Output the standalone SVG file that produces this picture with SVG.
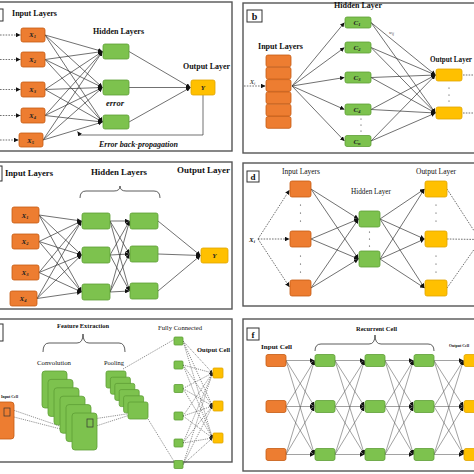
<svg xmlns="http://www.w3.org/2000/svg" width="474" height="474" viewBox="0 0 474 474">
<defs>
<marker id="ah" viewBox="0 0 6 6" refX="6" refY="3" markerWidth="4.5" markerHeight="4.5" markerUnits="userSpaceOnUse" orient="auto"><path d="M0,0L6,3L0,6z" fill="#111"/></marker>
<marker id="as" viewBox="0 0 6 6" refX="6" refY="3" markerWidth="3" markerHeight="3" markerUnits="userSpaceOnUse" orient="auto"><path d="M0,0L6,3L0,6z" fill="#222"/></marker>
</defs>
<style>
.frame{fill:#fff;stroke:#555;stroke-width:1.4}
.lbl{fill:#fff;stroke:#333;stroke-width:1}
.or{fill:#ED7D31;stroke:#C55A11;stroke-width:0.8}
.gr{fill:#7DC24E;stroke:#5E9E36;stroke-width:0.8}
.ye{fill:#FFC000;stroke:#E0A500;stroke-width:0.8}
.h{font-family:"Liberation Serif",serif;font-weight:bold;font-size:7.5px;fill:#111}
.hs{font-family:"Liberation Serif",serif;font-weight:bold;font-size:6.2px;fill:#111}
.rs{font-family:"Liberation Serif",serif;font-size:6.2px;fill:#111}
.it{font-family:"Liberation Serif",serif;font-weight:bold;font-style:italic;font-size:7.5px;fill:#111}
.nl{font-family:"Liberation Serif",serif;font-style:italic;font-weight:bold;font-size:7px;fill:#222;text-anchor:middle}
.pl{font-family:"Liberation Serif",serif;font-weight:bold;font-size:10px;fill:#111;text-anchor:middle}
.c path{fill:none;stroke:#333;stroke-width:0.7;marker-end:url(#ah)}
.c path.d{stroke-dasharray:1.6,1.2}
.c path.e{stroke-dasharray:1.2,1;stroke:#444;stroke-width:0.6;marker-end:url(#as)}
.c path.n{marker-end:none}
.c path.f{stroke:#555;stroke-width:0.55}
.br{fill:none;stroke:#333;stroke-width:0.8}
.dot{fill:#333}
</style>

<!-- Frames -->
<g id="frames">
<rect class="frame" x="-10" y="2" width="242" height="149"/>
<rect class="frame" x="243" y="3" width="240" height="150"/>
<rect class="frame" x="-10" y="162" width="242" height="147"/>
<rect class="frame" x="243" y="163" width="240" height="143"/>
<rect class="frame" x="-10" y="319" width="242" height="143"/>
<rect class="frame" x="243" y="319" width="240" height="152"/>
<rect class="lbl" x="-10" y="9" width="13" height="12"/>
<rect class="lbl" x="247" y="10" width="15" height="12"/>
<text class="pl" x="254.5" y="19.5">b</text>
<rect class="lbl" x="-10" y="166" width="12" height="15"/>
<rect class="lbl" x="247" y="171" width="12" height="11"/>
<text class="pl" x="253" y="179.5" style="font-size:9px">d</text>
<rect class="lbl" x="-10" y="324" width="13" height="17"/>
<rect class="lbl" x="247" y="328" width="12" height="12"/>
<text class="pl" x="253" y="337.5" style="font-size:9px">f</text>
</g>

<!-- Connectors -->
<g id="connectors" class="c">
<!-- panel a -->
<path class="d" d="M0,35H20.5"/><path class="d" d="M0,59.5H20.5"/><path class="d" d="M0,89.5H20.5"/><path class="d" d="M0,115.5H20.5"/><path class="d" d="M0,140H18.5"/>
<path d="M45,35L102.5,51.5"/><path d="M45,35L102.5,87.5"/><path d="M45,35L102.5,122"/>
<path d="M45,59.5L102.5,51.5"/><path d="M45,59.5L102.5,87.5"/><path d="M45,59.5L102.5,122"/>
<path d="M45,89.5L102.5,51.5"/><path d="M45,89.5L102.5,87.5"/><path d="M45,89.5L102.5,122"/>
<path d="M45,115.5L102.5,51.5"/><path d="M45,115.5L102.5,87.5"/><path d="M45,115.5L102.5,122"/>
<path d="M43,140L102.5,51.5"/><path d="M43,140L102.5,87.5"/><path d="M43,140L102.5,122"/>
<path d="M129,51.5L190.5,87.5"/><path d="M129,87.5L190.5,87.5"/><path d="M129,122L190.5,87.5"/>
<path d="M203,95V135H80L77.5,131.5"/>
<!-- panel b -->
<path class="d" d="M244,86H265.5"/>
<path d="M292,86L344.5,22.5"/><path d="M292,86L344.5,47.5"/><path d="M292,86L344.5,77.5"/><path d="M292,86L344.5,109.5"/><path d="M292,86L344.5,141"/>
<path d="M371,22.5L435.5,75"/><path d="M371,22.5L435.5,113"/>
<path d="M371,47.5L435.5,75"/><path d="M371,47.5L435.5,113"/>
<path d="M371,77.5L435.5,75"/><path d="M371,77.5L435.5,113"/>
<path d="M371,109.5L435.5,75"/><path d="M371,109.5L435.5,113"/>
<path d="M371,141L435.5,75"/><path d="M371,141L435.5,113"/>
<path class="d n" d="M463,75H476"/><path class="d n" d="M463,113H476"/>
<!-- panel c -->
<path d="M39,215L81.5,221"/><path d="M39,215L81.5,255"/><path d="M39,215L81.5,292"/>
<path d="M39,241.5L81.5,221"/><path d="M39,241.5L81.5,255"/><path d="M39,241.5L81.5,292"/>
<path d="M39,272.5L81.5,221"/><path d="M39,272.5L81.5,255"/><path d="M39,272.5L81.5,292"/>
<path d="M37,298.5L81.5,221"/><path d="M37,298.5L81.5,255"/><path d="M37,298.5L81.5,292"/>
<path d="M110,221L129.5,221"/><path d="M110,221L129.5,254"/><path d="M110,221L129.5,291"/>
<path d="M110,255L129.5,221"/><path d="M110,255L129.5,254"/><path d="M110,255L129.5,291"/>
<path d="M110,292L129.5,221"/><path d="M110,292L129.5,254"/><path d="M110,292L129.5,291"/>
<path d="M158,221L200.5,255.5"/><path d="M158,254L200.5,255.5"/><path d="M158,291L200.5,255.5"/>
<!-- panel d -->
<path class="d" d="M258,239L289.5,190"/><path class="d" d="M258,239L289.5,239"/><path class="d" d="M258,239L289.5,287"/>
<path d="M311,189L358.5,219"/><path d="M311,189L358.5,259"/>
<path d="M311,239L358.5,219"/><path d="M311,239L358.5,259"/>
<path d="M311,288L358.5,219"/><path d="M311,288L358.5,259"/>
<path d="M380,219L424.5,189"/><path d="M380,219L424.5,239"/><path d="M380,219L424.5,288"/>
<path d="M380,259L424.5,189"/><path d="M380,259L424.5,239"/><path d="M380,259L424.5,288"/>
<path class="d n" d="M447,189L480,240"/><path class="d n" d="M447,239L480,239.5"/><path class="d n" d="M447,288L480,241"/>
<!-- panel e -->
<path class="e n" d="M10,409L80,433"/><path class="e n" d="M10,416L80,434"/>
<path class="e n" d="M93,419L133,413"/><path class="e n" d="M93,427L133,414"/>
<path class="e n" d="M123,369L175,339"/><path class="e n" d="M148,419L175,463"/>
<path class="e" d="M183,341L212.5,373"/><path class="e" d="M183,341L212.5,406"/><path class="e" d="M183,341L212.5,438"/>
<path class="e" d="M183,365L212.5,373"/><path class="e" d="M183,365L212.5,406"/><path class="e" d="M183,365L212.5,438"/>
<path class="e" d="M183,388.5L212.5,373"/><path class="e" d="M183,388.5L212.5,406"/><path class="e" d="M183,388.5L212.5,438"/>
<path class="e" d="M183,416L212.5,373"/><path class="e" d="M183,416L212.5,406"/><path class="e" d="M183,416L212.5,438"/>
<path class="e" d="M183,443L212.5,373"/><path class="e" d="M183,443L212.5,406"/><path class="e" d="M183,443L212.5,438"/>
<path class="e" d="M183,464.5L212.5,373"/><path class="e" d="M183,464.5L212.5,406"/><path class="e" d="M183,464.5L212.5,438"/>
<!-- panel f -->
<path class="f" d="M286,360.5L314.5,360.5"/><path class="f" d="M286,360.5L314.5,406.5"/><path class="f" d="M286,360.5L314.5,454.5"/>
<path class="f" d="M286,406.5L314.5,360.5"/><path class="f" d="M286,406.5L314.5,406.5"/><path class="f" d="M286,406.5L314.5,454.5"/>
<path class="f" d="M286,454.5L314.5,360.5"/><path class="f" d="M286,454.5L314.5,406.5"/><path class="f" d="M286,454.5L314.5,454.5"/>
<path class="f" d="M335,360.5L364.5,360.5"/><path class="f" d="M335,360.5L364.5,406.5"/><path class="f" d="M335,360.5L364.5,454.5"/>
<path class="f" d="M335,406.5L364.5,360.5"/><path class="f" d="M335,406.5L364.5,406.5"/><path class="f" d="M335,406.5L364.5,454.5"/>
<path class="f" d="M335,454.5L364.5,360.5"/><path class="f" d="M335,454.5L364.5,406.5"/><path class="f" d="M335,454.5L364.5,454.5"/>
<path class="f" d="M385,360.5L413.5,360.5"/><path class="f" d="M385,360.5L413.5,406.5"/><path class="f" d="M385,360.5L413.5,454.5"/>
<path class="f" d="M385,406.5L413.5,360.5"/><path class="f" d="M385,406.5L413.5,406.5"/><path class="f" d="M385,406.5L413.5,454.5"/>
<path class="f" d="M385,454.5L413.5,360.5"/><path class="f" d="M385,454.5L413.5,406.5"/><path class="f" d="M385,454.5L413.5,454.5"/>
<path class="f" d="M434,360.5L463.5,360.5"/><path class="f" d="M434,360.5L463.5,406.5"/><path class="f" d="M434,360.5L463.5,454.5"/>
<path class="f" d="M434,406.5L463.5,360.5"/><path class="f" d="M434,406.5L463.5,406.5"/><path class="f" d="M434,406.5L463.5,454.5"/>
<path class="f" d="M434,454.5L463.5,360.5"/><path class="f" d="M434,454.5L463.5,406.5"/><path class="f" d="M434,454.5L463.5,454.5"/>
</g>

<!-- Panel a -->
<g id="panel-a">
<text class="h" x="12" y="16" textLength="45" lengthAdjust="spacingAndGlyphs">Input Layers</text>
<text class="h" x="93" y="34" textLength="51" lengthAdjust="spacingAndGlyphs">Hidden Layers</text>
<text class="h" x="183" y="69" textLength="47" lengthAdjust="spacingAndGlyphs">Output Layer</text>
<text class="it" x="106" y="106" textLength="18" lengthAdjust="spacingAndGlyphs">error</text>
<text class="it" x="99" y="147" textLength="79" lengthAdjust="spacingAndGlyphs">Error back-propagation</text>
<g id="a-x1"><rect class="or" x="21" y="28" width="24" height="14" rx="2"/><text class="nl" x="32.5" y="37">X<tspan font-size="4.5" dy="1.2">1</tspan></text></g>
<g id="a-x2"><rect class="or" x="21" y="52" width="24" height="15" rx="2"/><text class="nl" x="32.5" y="62">X<tspan font-size="4.5" dy="1.2">2</tspan></text></g>
<g id="a-x3"><rect class="or" x="21" y="82" width="24" height="15" rx="2"/><text class="nl" x="32.5" y="92">X<tspan font-size="4.5" dy="1.2">3</tspan></text></g>
<g id="a-x4"><rect class="or" x="21" y="108" width="24" height="15" rx="2"/><text class="nl" x="32.5" y="118">X<tspan font-size="4.5" dy="1.2">4</tspan></text></g>
<g id="a-x5"><rect class="or" x="19" y="133" width="24" height="14" rx="2"/><text class="nl" x="30.5" y="142.5">X<tspan font-size="4.5" dy="1.2">5</tspan></text></g>
<g id="a-h1"><rect class="gr" x="103" y="44" width="26" height="15" rx="2"/></g>
<g id="a-h2"><rect class="gr" x="103" y="80" width="26" height="15" rx="2"/></g>
<g id="a-h3"><rect class="gr" x="103" y="115" width="26" height="14" rx="2"/></g>
<g id="a-y"><rect class="ye" x="191" y="80" width="24" height="15" rx="2"/><text class="nl" x="203" y="90">Y</text></g>
</g>

<!-- Panel b -->
<g id="panel-b">
<text class="h" x="334" y="8" textLength="48" lengthAdjust="spacingAndGlyphs">Hidden Layer</text>
<text class="h" x="258" y="49" textLength="45" lengthAdjust="spacingAndGlyphs">Input Layers</text>
<text class="h" x="430" y="62" textLength="42" lengthAdjust="spacingAndGlyphs">Output Layer</text>
<text class="nl" x="252.5" y="83.5" style="font-weight:normal">X<tspan font-size="4.5" dy="1.2">i</tspan></text>
<g id="b-input">
<rect class="or" x="266" y="55" width="25" height="11.8" rx="2"/>
<rect class="or" x="266" y="67.3" width="25" height="11.8" rx="2"/>
<rect class="or" x="266" y="79.6" width="25" height="11.8" rx="2"/>
<rect class="or" x="266" y="91.9" width="25" height="11.8" rx="2"/>
<rect class="or" x="266" y="104.2" width="25" height="11.8" rx="2"/>
<rect class="or" x="266" y="116.5" width="25" height="11.8" rx="2"/>
</g>
<g id="b-c1"><rect class="gr" x="345" y="17" width="26" height="11" rx="2"/><text class="nl" x="357" y="25">C<tspan font-size="4.5" dy="1.2">1</tspan></text></g>
<g id="b-c2"><rect class="gr" x="345" y="42" width="26" height="11" rx="2"/><text class="nl" x="357" y="50">C<tspan font-size="4.5" dy="1.2">2</tspan></text></g>
<g id="b-c3"><rect class="gr" x="345" y="72" width="26" height="11" rx="2"/><text class="nl" x="357" y="80">C<tspan font-size="4.5" dy="1.2">3</tspan></text></g>
<g id="b-c4"><rect class="gr" x="345" y="104" width="26" height="11" rx="2"/><text class="nl" x="357" y="112">C<tspan font-size="4.5" dy="1.2">4</tspan></text></g>
<g id="b-cn"><rect class="gr" x="345" y="135.5" width="26" height="11" rx="2"/><text class="nl" x="357" y="143.5">C<tspan font-size="4.5" dy="1.2">n</tspan></text></g>
<circle class="dot" cx="361" cy="119" r="0.6"/><circle class="dot" cx="361" cy="125" r="0.6"/><circle class="dot" cx="361" cy="131" r="0.6"/>
<text x="389" y="34" style="font-family:'Liberation Serif',serif;font-style:italic;font-size:4.5px;fill:#333">w<tspan font-size="3.5" dy="0.8">ij</tspan></text>
<g id="b-o1"><rect class="ye" x="436" y="69" width="26" height="12" rx="2"/></g>
<g id="b-o2"><rect class="ye" x="436" y="107" width="26" height="12" rx="2"/></g>
<circle class="dot" cx="449" cy="88" r="0.6"/><circle class="dot" cx="449" cy="95" r="0.6"/><circle class="dot" cx="449" cy="101" r="0.6"/>
</g>

<!-- Panel c -->
<g id="panel-c">
<text class="h" x="5" y="176" textLength="48" lengthAdjust="spacingAndGlyphs">Input Layers</text>
<text class="h" x="91" y="175" textLength="56" lengthAdjust="spacingAndGlyphs">Hidden Layers</text>
<text class="h" x="177" y="173" textLength="53" lengthAdjust="spacingAndGlyphs">Output Layer</text>
<path class="br" d="M80,198Q80,191 86,191H114Q120,191 120,186Q120,191 126,191H154Q160,191 160,198"/>
<g id="c-x1"><rect class="or" x="12" y="207" width="27" height="16" rx="2"/><text class="nl" x="25" y="217.5">X<tspan font-size="4.5" dy="1.2">1</tspan></text></g>
<g id="c-x2"><rect class="or" x="12" y="234" width="27" height="15" rx="2"/><text class="nl" x="25" y="244">X<tspan font-size="4.5" dy="1.2">2</tspan></text></g>
<g id="c-x3"><rect class="or" x="12" y="265" width="27" height="15" rx="2"/><text class="nl" x="25" y="275">X<tspan font-size="4.5" dy="1.2">3</tspan></text></g>
<g id="c-x4"><rect class="or" x="10" y="291" width="27" height="15" rx="2"/><text class="nl" x="23" y="301">X<tspan font-size="4.5" dy="1.2">4</tspan></text></g>
<g id="c-h11"><rect class="gr" x="82" y="213" width="28" height="16" rx="2"/></g>
<g id="c-h12"><rect class="gr" x="82" y="247" width="28" height="16" rx="2"/></g>
<g id="c-h13"><rect class="gr" x="82" y="284" width="28" height="16" rx="2"/></g>
<g id="c-h21"><rect class="gr" x="130" y="213" width="28" height="16" rx="2"/></g>
<g id="c-h22"><rect class="gr" x="130" y="246" width="28" height="16" rx="2"/></g>
<g id="c-h23"><rect class="gr" x="130" y="283" width="28" height="16" rx="2"/></g>
<g id="c-y"><rect class="ye" x="201" y="248" width="27" height="15" rx="2"/><text class="nl" x="214.5" y="258">Y</text></g>
</g>

<!-- Panel d -->
<g id="panel-d">
<text class="h" x="282" y="174" textLength="38" lengthAdjust="spacingAndGlyphs" style="font-weight:normal">Input Layers</text>
<text class="h" x="351" y="194" textLength="40" lengthAdjust="spacingAndGlyphs" style="font-weight:normal">Hidden Layer</text>
<text class="h" x="416" y="174" textLength="40" lengthAdjust="spacingAndGlyphs" style="font-weight:normal">Output Layer</text>
<text class="nl" x="252" y="241.5">X<tspan font-size="4.5" dy="1.2">i</tspan></text>
<g id="d-i1"><rect class="or" x="290" y="181" width="21" height="16" rx="2"/></g>
<g id="d-i2"><rect class="or" x="290" y="231" width="21" height="16" rx="2"/></g>
<g id="d-i3"><rect class="or" x="290" y="280" width="21" height="16" rx="2"/></g>
<g id="d-h1"><rect class="gr" x="359" y="211" width="21" height="16" rx="2"/></g>
<g id="d-h2"><rect class="gr" x="359" y="251" width="21" height="16" rx="2"/></g>
<g id="d-o1"><rect class="ye" x="425" y="181" width="22" height="16" rx="2"/></g>
<g id="d-o2"><rect class="ye" x="425" y="231" width="22" height="16" rx="2"/></g>
<g id="d-o3"><rect class="ye" x="425" y="280" width="22" height="16" rx="2"/></g>
<g class="dots">
<circle class="dot" cx="300.5" cy="205" r="0.6"/><circle class="dot" cx="300.5" cy="213" r="0.6"/><circle class="dot" cx="300.5" cy="221" r="0.6"/>
<circle class="dot" cx="300.5" cy="256" r="0.6"/><circle class="dot" cx="300.5" cy="264" r="0.6"/><circle class="dot" cx="300.5" cy="272" r="0.6"/>
<circle class="dot" cx="369.5" cy="232" r="0.6"/><circle class="dot" cx="369.5" cy="239" r="0.6"/><circle class="dot" cx="369.5" cy="246" r="0.6"/>
<circle class="dot" cx="436" cy="205" r="0.6"/><circle class="dot" cx="436" cy="213" r="0.6"/><circle class="dot" cx="436" cy="221" r="0.6"/>
<circle class="dot" cx="436" cy="256" r="0.6"/><circle class="dot" cx="436" cy="264" r="0.6"/><circle class="dot" cx="436" cy="272" r="0.6"/>
</g>
</g>

<!-- Panel e -->
<g id="panel-e">
<text class="hs" x="57" y="328" textLength="52" lengthAdjust="spacingAndGlyphs">Feature Extraction</text>
<path class="br" d="M43,352Q43,343 49,343H77Q83,343 83,334Q83,343 89,343H119Q125,343 125,352"/>
<text class="rs" x="37" y="365" textLength="34" lengthAdjust="spacingAndGlyphs">Convolution</text>
<text class="rs" x="104" y="365" textLength="20" lengthAdjust="spacingAndGlyphs">Pooling</text>
<text class="rs" x="158" y="330" textLength="44" lengthAdjust="spacingAndGlyphs">Fully Connected</text>
<text class="hs" x="197" y="352" textLength="33" lengthAdjust="spacingAndGlyphs">Output Cell</text>
<text class="hs" x="1" y="398" style="font-size:4.6px" textLength="17" lengthAdjust="spacingAndGlyphs">Input Cell</text>
<g id="e-input"><rect class="or" x="-10" y="402" width="24" height="37" rx="3"/><rect x="4" y="408" width="6" height="8" fill="none" stroke="#333" stroke-width="0.7"/></g>
<g id="e-conv">
<rect class="gr" x="42" y="371" width="25" height="37" rx="3"/>
<rect class="gr" x="48" y="379.4" width="25" height="37" rx="3"/>
<rect class="gr" x="54" y="387.8" width="25" height="37" rx="3"/>
<rect class="gr" x="60" y="396.2" width="25" height="37" rx="3"/>
<rect class="gr" x="66" y="404.6" width="25" height="37" rx="3"/>
<rect class="gr" x="72" y="413" width="25" height="37" rx="3"/>
<rect x="87" y="419" width="6" height="8" fill="none" stroke="#333" stroke-width="0.7"/>
</g>
<g id="e-pool">
<rect class="gr" x="106" y="371" width="20" height="17" rx="2"/>
<rect class="gr" x="110.4" y="377.2" width="20" height="17" rx="2"/>
<rect class="gr" x="114.8" y="383.4" width="20" height="17" rx="2"/>
<rect class="gr" x="119.2" y="389.6" width="20" height="17" rx="2"/>
<rect class="gr" x="123.6" y="395.8" width="20" height="17" rx="2"/>
<rect class="gr" x="128" y="402" width="20" height="17" rx="2"/>
</g>
<g id="e-fc">
<rect class="gr" x="174" y="337" width="9" height="8" rx="1"/>
<rect class="gr" x="174" y="361" width="9" height="8" rx="1"/>
<rect class="gr" x="174" y="384.5" width="9" height="8" rx="1"/>
<rect class="gr" x="174" y="412" width="9" height="8" rx="1"/>
<rect class="gr" x="174" y="439" width="9" height="8" rx="1"/>
<rect class="gr" x="174" y="460.5" width="9" height="8" rx="1"/>
</g>
<g id="e-out">
<rect class="ye" x="213" y="368" width="10" height="10" rx="1"/>
<rect class="ye" x="213" y="401" width="10" height="10" rx="1"/>
<rect class="ye" x="213" y="433" width="10" height="10" rx="1"/>
</g>
</g>

<!-- Panel f -->
<g id="panel-f">
<text class="hs" x="356" y="331" textLength="41" lengthAdjust="spacingAndGlyphs">Recurrent Cell</text>
<path class="br" d="M315,351Q315,344 321,344H369Q375,344 375,335Q375,344 381,344H428Q434,344 434,351"/>
<text class="hs" x="261" y="349" textLength="31" lengthAdjust="spacingAndGlyphs">Input Cell</text>
<text class="hs" x="449" y="347" style="font-size:4.6px" textLength="20" lengthAdjust="spacingAndGlyphs">Output Cell</text>
<g id="f-in">
<rect class="or" x="266" y="354.5" width="20" height="12" rx="2"/>
<rect class="or" x="266" y="400.5" width="20" height="12" rx="2"/>
<rect class="or" x="266" y="448.5" width="20" height="12" rx="2"/>
</g>
<g id="f-r1">
<rect class="gr" x="315" y="354.5" width="20" height="12" rx="2"/>
<rect class="gr" x="315" y="400.5" width="20" height="12" rx="2"/>
<rect class="gr" x="315" y="448.5" width="20" height="12" rx="2"/>
</g>
<g id="f-r2">
<rect class="gr" x="365" y="354.5" width="20" height="12" rx="2"/>
<rect class="gr" x="365" y="400.5" width="20" height="12" rx="2"/>
<rect class="gr" x="365" y="448.5" width="20" height="12" rx="2"/>
</g>
<g id="f-r3">
<rect class="gr" x="414" y="354.5" width="20" height="12" rx="2"/>
<rect class="gr" x="414" y="400.5" width="20" height="12" rx="2"/>
<rect class="gr" x="414" y="448.5" width="20" height="12" rx="2"/>
</g>
<g id="f-out">
<rect class="ye" x="464" y="354.5" width="20" height="12" rx="2"/>
<rect class="ye" x="464" y="400.5" width="20" height="12" rx="2"/>
<rect class="ye" x="464" y="448.5" width="20" height="12" rx="2"/>
</g>
</g>
</svg>
